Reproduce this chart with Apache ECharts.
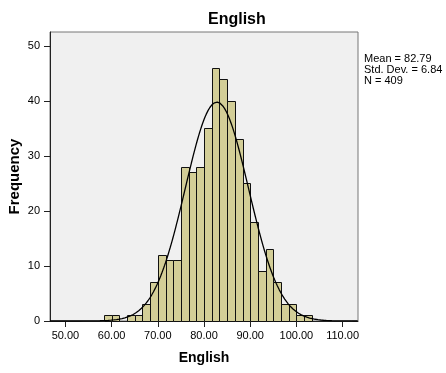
<!DOCTYPE html>
<html>
<head>
<meta charset="utf-8">
<script src="https://cdn.jsdelivr.net/npm/echarts@6/dist/echarts.min.js"></script>
<style>
html,body{margin:0;padding:0;background:#fff;}
#chart{width:446px;height:373px;}
</style>
</head>
<body>
<div id="chart"></div>
<script>
// ---- Data ----
const binStart = 175 / 3;          // first bin edge (58.33)
const binWidth = 5 / 3;            // histogram bin width
const counts = [1, 1, 0, 1, 1, 3, 7, 12, 11, 11, 28, 27, 28, 35, 46, 44, 40, 33, 25, 18, 9, 13, 7, 3, 3, 1, 1];
const xTicks = [50, 60, 70, 80, 90, 100, 110];
const yTicks = [0, 10, 20, 30, 40, 50];
const xMin = 140 / 3, xMax = 340 / 3;  // 46.67 .. 113.33
const yMax = 52.5;
const mean = 82.79, sd = 6.84, n = 409;
const statsLines = ['Mean = 82.79', 'Std. Dev. = 6.84', 'N = 409'];
const title = 'English';
const xName = 'English';
const yName = 'Frequency';

// ---- Build series data ----
const bars = counts.map((c, i) => [binStart + i * binWidth, binStart + (i + 1) * binWidth, c]).filter(d => d[2] > 0);
const curve = [];
for (let x = xMin; x <= xMax + 1e-9; x += 0.2) {
  const z = (x - mean) / sd;
  curve.push([x, n * binWidth * Math.exp(-0.5 * z * z) / (sd * Math.sqrt(2 * Math.PI))]);
}

const FONT = "'Liberation Sans', Arial, sans-serif";
const chart = echarts.init(document.getElementById('chart'), null, {renderer: 'canvas'});
chart.setOption({
  animation: false,
  backgroundColor: '#ffffff',
  title: {
    text: title, left: 208, top: 12, padding: 0,
    textStyle: {fontFamily: FONT, fontSize: 16, fontWeight: 'bold', color: '#000'}
  },
  grid: {
    left: 50, right: 88, top: 32, bottom: 52,
    containLabel: false, outerBoundsMode: 'none',
    show: true, backgroundColor: '#f0f0f0', borderColor: '#777', borderWidth: 1
  },
  xAxis: {
    type: 'value', min: xMin, max: xMax,
    name: xName, nameLocation: 'middle', nameGap: 30, nameMoveOverlap: false,
    nameTextStyle: {fontFamily: FONT, fontSize: 14, fontWeight: 'bold', color: '#000'},
    axisLine: {show: true, lineStyle: {color: '#222', width: 1}},
    axisTick: {show: true, length: 6, customValues: xTicks, lineStyle: {color: '#222'}},
    axisLabel: {customValues: xTicks, margin: 9, fontFamily: FONT, fontSize: 11, color: '#000',
      formatter: v => Number(v).toFixed(2)},
    splitLine: {show: false}
  },
  yAxis: {
    type: 'value', min: 0, max: yMax,
    name: yName, nameLocation: 'middle', nameGap: 28, nameRotate: 90, nameMoveOverlap: false,
    nameTextStyle: {fontFamily: FONT, fontSize: 15, fontWeight: 'bold', color: '#000'},
    axisLine: {show: true, lineStyle: {color: '#222', width: 1}},
    axisTick: {show: true, length: 6, customValues: yTicks, lineStyle: {color: '#222'}},
    axisLabel: {customValues: yTicks, margin: 10, fontFamily: FONT, fontSize: 11, color: '#000'},
    splitLine: {show: false}
  },
  graphic: [{
    type: 'text', left: 364, top: 53,
    style: {text: statsLines.join('\n'), font: "11px 'Liberation Sans', Arial, sans-serif", fill: '#000', lineHeight: 11}
  }],
  series: [{
    type: 'custom',
    data: bars,
    renderItem: (params, api) => {
      const p0 = api.coord([api.value(0), api.value(2)]);
      const p1 = api.coord([api.value(1), 0]);
      const x0 = Math.round(p0[0]) + 0.5, x1 = Math.round(p1[0]) + 0.5;
      const y0 = Math.round(p0[1]) + 0.5, y1 = Math.round(p1[1]) + 0.5;
      return {type: 'rect', shape: {x: x0, y: y0, width: x1 - x0, height: y1 - y0},
        style: {fill: '#d3ce97', stroke: '#111', lineWidth: 1}};
    },
    z: 2
  }, {
    type: 'line', data: curve, showSymbol: false, smooth: false, clip: true,
    lineStyle: {color: '#000', width: 1.3}, z: 3, silent: true
  }]
});
</script>
</body>
</html>
